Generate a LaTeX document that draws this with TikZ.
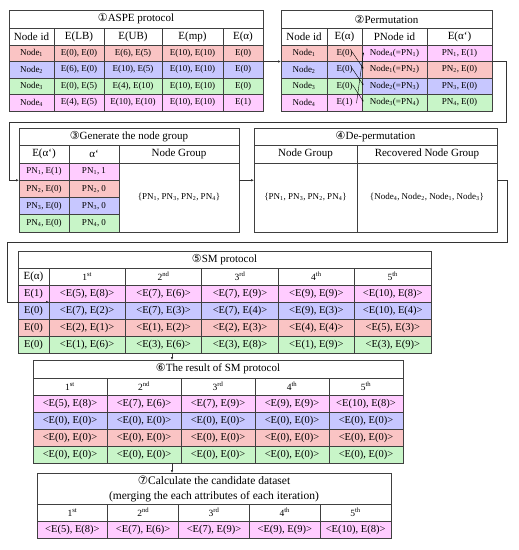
\documentclass[tikz,border=0pt]{standalone}
\usepackage{fontspec}
\setmainfont{Liberation Serif}
\newfontfamily\circfont{DejaVu Sans}
\usetikzlibrary{arrows.meta}

\definecolor{cpink}{RGB}{255,204,255}
\definecolor{cred}{RGB}{250,196,196}
\definecolor{cblue}{RGB}{199,199,255}
\definecolor{cgreen}{RGB}{200,245,200}

\newcommand{\stepno}[1]{{\circfont #1}}
\newcommand{\nodeid}[1]{Node\textsubscript{#1}}
\newcommand{\pnid}[1]{PN\textsubscript{#1}}
\newcommand{\hfont}{\fontsize{11}{13}\selectfont}
\newcommand{\cfont}{\fontsize{9}{11}\selectfont}
\newcommand{\bfont}{\fontsize{10.5}{12}\selectfont}
\newcommand{\sfont}{\fontsize{9.5}{11}\selectfont}

\begin{document}
\begin{tikzpicture}[x=1pt, y=-1pt,
  cell/.style={draw=black!75, line width=0.7pt, anchor=north west, inner sep=0pt, outer sep=0pt, minimum height=16.5pt, font=\cfont},
  hd/.style={cell, minimum height=17pt, font=\hfont},
  ttl/.style={cell, minimum height=18pt, font=\hfont},
  flow/.style={draw=black!80, line width=0.6pt, -{Latex[length=3pt,width=2.6pt]}},
  perm/.style={draw=black, line width=0.4pt, -{Latex[length=2pt,width=1.8pt]}}]
\useasboundingbox (0,0) rectangle (519,550);

% (1) ASPE protocol
\node[ttl, minimum width=254] (aT) at (9,10) {\stepno{①}ASPE protocol};
\node[hd, minimum width=45] (aH1) at (9,28) {Node id};
\node[hd, minimum width=50] (aH2) at (54,28) {E(LB)};
\node[hd, minimum width=58] (aH3) at (104,28) {E(UB)};
\node[hd, minimum width=61] (aH4) at (162,28) {E(mp)};
\node[hd, minimum width=40] (aH5) at (223,28) {E(α)};
\foreach \y/\c/\n/\lb/\ub/\al [count=\r] in {45/cred/1/{E(0), E(0)}/{E(6), E(5)}/E(0),
    61.5/cblue/2/{E(6), E(0)}/{E(10), E(5)}/E(0),
    78/cgreen/3/{E(0), E(5)}/{E(4), E(10)}/E(0),
    94.5/cpink/4/{E(4), E(5)}/{E(10), E(10)}/E(1)}{
  \node[cell, fill=\c, minimum width=45] (a\r1) at (9,\y) {\nodeid{\n}};
  \node[cell, fill=\c, minimum width=50] (a\r2) at (54,\y) {\lb};
  \node[cell, fill=\c, minimum width=58] (a\r3) at (104,\y) {\ub};
  \node[cell, fill=\c, minimum width=61] (a\r4) at (162,\y) {E(10), E(10)};
  \node[cell, fill=\c, minimum width=40] (a\r5) at (223,\y) {\al};
}

% (2) Permutation
\node[ttl, minimum width=211] (bT) at (281,10) {\stepno{②}Permutation};
\node[hd, minimum width=46] (bH1) at (281,28) {Node id};
\node[hd, minimum width=35] (bH2) at (327,28) {E(α)};
\node[hd, minimum width=65] (bH3) at (362,28) {PNode id};
\node[hd, minimum width=65] (bH4) at (427,28) {E(α`)};
\foreach \y/\c/\d/\al/\p/\q [count=\r] in {45/cred/cpink/0/4/1, 61.5/cblue/cred/0/1/0,
    78/cgreen/cblue/0/2/0, 94.5/cpink/cgreen/1/3/0}{
  \node[cell, fill=\c, minimum width=46] (b\r1) at (281,\y) {\nodeid{\r}};
  \node[cell, fill=\c, minimum width=35] (b\r2) at (327,\y) {E(\al)};
  \node[cell, fill=\d, minimum width=65] (b\r3) at (362,\y) {\nodeid{\p}(=\pnid{\r})};
  \node[cell, fill=\d, minimum width=65] (b\r4) at (427,\y) {\pnid{\r}, E(\q)};
}
\draw[perm] ([xshift=7.5pt,yshift=1.5pt]b12.center) -- ([xshift=1.5pt,yshift=1pt]b23.west);
\draw[perm] ([xshift=7.5pt,yshift=1.5pt]b22.center) -- ([xshift=1.5pt,yshift=1pt]b33.west);
\draw[perm] ([xshift=8pt,yshift=1.5pt]b32.center) -- ([xshift=1.5pt,yshift=1pt]b43.west);
\draw[perm] ([xshift=12pt,yshift=-0.5pt]b42.center) -- ([xshift=1.5pt,yshift=1pt]b13.west);

% (3) Generate the node group
\node[ttl, minimum width=220, minimum height=17pt] (cT) at (19,128) {\stepno{③}Generate the node group};
\node[hd, minimum width=50, minimum height=18pt] (cH1) at (19,145) {E(α`)};
\node[hd, minimum width=50, minimum height=18pt] (cH2) at (69,145) {α`};
\node[hd, minimum width=120, minimum height=18pt] (cH3) at (119,145) {Node Group};
\foreach \y/\c/\q [count=\r] in {163/cpink/1, 180.25/cred/0, 197.5/cblue/0, 214.75/cgreen/0}{
  \node[cell, fill=\c, minimum width=50, minimum height=17.25pt] (c\r1) at (19,\y) {\pnid{\r}, E(\q)};
  \node[cell, fill=\c, minimum width=50, minimum height=17.25pt] (c\r2) at (69,\y) {\pnid{\r}, \q};
}
\node[cell, minimum width=120, minimum height=69pt] (cG) at (119,163) {\{\pnid{1}, \pnid{3}, \pnid{2}, \pnid{4}\}};

% (4) De-permutation
\node[ttl, minimum width=243, minimum height=17pt] (dT) at (254,128) {\stepno{④}De-permutation};
\node[hd, minimum width=103, minimum height=18pt] (dH1) at (254,145) {Node Group};
\node[hd, minimum width=140, minimum height=18pt] (dH2) at (357,145) {Recovered Node Group};
\node[cell, minimum width=103, minimum height=69pt] (dG1) at (254,163) {\{\pnid{1}, \pnid{3}, \pnid{2}, \pnid{4}\}};
\node[cell, minimum width=140, minimum height=69pt] (dG2) at (357,163) {\{\nodeid{4}, \nodeid{2}, \nodeid{1}, \nodeid{3}\}};

% (5) SM protocol
\node[ttl, minimum width=413, minimum height=17pt] (eT) at (18,251) {\stepno{⑤}SM protocol};
\node[hd, minimum width=31] (eH0) at (18,268) {E(α)};
\foreach \i/\s in {1/st,2/nd,3/rd,4/th,5/th}
  \node[hd, font=\sfont, minimum width=76.4] (eH\i) at ({49+76.4*(\i-1)},268) {\i\textsuperscript{\s}};
\foreach \y/\c/\al/\ka/\kb/\kc/\kd/\ke [count=\r] in {
    285/cpink/E(1)/{<E(5), E(8)>}/{<E(7), E(6)>}/{<E(7), E(9)>}/{<E(9), E(9)>}/{<E(10), E(8)>},
    302/cblue/E(0)/{<E(7), E(2)>}/{<E(7), E(3)>}/{<E(7), E(4)>}/{<E(9), E(3)>}/{<E(10), E(4)>},
    319/cred/E(0)/{<E(2), E(1)>}/{<E(1), E(2)>}/{<E(2), E(3)>}/{<E(4), E(4)>}/{<E(5), E(3)>},
    336/cgreen/E(0)/{<E(1), E(6)>}/{<E(3), E(6)>}/{<E(3), E(8)>}/{<E(1), E(9)>}/{<E(3), E(9)>}}{
  \node[cell, fill=\c, font=\bfont, minimum width=31, minimum height=17pt] (e\r0) at (18,\y) {\al};
  \node[cell, fill=\c, font=\bfont, minimum width=76.4, minimum height=17pt] (e\r1) at (49,\y) {\ka};
  \node[cell, fill=\c, font=\bfont, minimum width=76.4, minimum height=17pt] (e\r2) at (125.4,\y) {\kb};
  \node[cell, fill=\c, font=\bfont, minimum width=76.4, minimum height=17pt] (e\r3) at (201.8,\y) {\kc};
  \node[cell, fill=\c, font=\bfont, minimum width=76.4, minimum height=17pt] (e\r4) at (278.2,\y) {\kd};
  \node[cell, fill=\c, font=\bfont, minimum width=76.4, minimum height=17pt] (e\r5) at (354.6,\y) {\ke};
}

% (6) The result of SM protocol
\node[ttl, minimum width=370] (fT) at (33,360) {\stepno{⑥}The result of SM protocol};
\foreach \i/\s in {1/st,2/nd,3/rd,4/th,5/th}
  \node[hd, font=\sfont, minimum width=74] (fH\i) at ({33+74*(\i-1)},378) {\i\textsuperscript{\s}};
\foreach \i/\v in {1/{<E(5), E(8)>}, 2/{<E(7), E(6)>}, 3/{<E(7), E(9)>}, 4/{<E(9), E(9)>}, 5/{<E(10), E(8)>}}
  \node[cell, fill=cpink, font=\bfont, minimum width=74, minimum height=17pt] (f1\i) at ({33+74*(\i-1)},395) {\v};
\foreach \y/\c [count=\r from 2] in {412/cblue, 429/cred, 446/cgreen}{
  \foreach \i in {1,...,5}
    \node[cell, fill=\c, font=\bfont, minimum width=74, minimum height=17pt] (f\r\i) at ({33+74*(\i-1)},\y) {<E(0), E(0)>};
}

% (7) Calculate the candidate dataset
\node[ttl, align=center, font=\fontsize{11.5}{15}\selectfont, minimum width=354, minimum height=31pt] (gT) at (37,473)
  {\stepno{⑦}Calculate the candidate dataset\\(merging the each attributes of each iteration)};
\foreach \i/\s in {1/st,2/nd,3/rd,4/th,5/th}
  \node[hd, font=\sfont, minimum width=70.8] (gH\i) at ({37+70.8*(\i-1)},504) {\i\textsuperscript{\s}};
\foreach \i/\v in {1/{<E(5), E(8)>}, 2/{<E(7), E(6)>}, 3/{<E(7), E(9)>}, 4/{<E(9), E(9)>}, 5/{<E(10), E(8)>}}
  \node[cell, fill=cpink, font=\bfont, minimum width=70.8, minimum height=17pt] (g1\i) at ({37+70.8*(\i-1)},521) {\v};

% connectors
\draw[flow] (a15.south east) -- (b11.south west);
\draw[flow] (b14.south east) -- ++(14,0) |- (9,122) |- (c11.south west);
\draw[flow] (cG.east |- c11.south) -- (dG1.west |- c11.south);
\draw[flow] (dG2.east |- c11.south) -- ++(10,0) |- (7,242) |- (e11.south west);
\draw[flow] ([xshift=8.4pt]e42.south) -- ([xshift=8.4pt]e42.south |- fT.north);
\draw[flow] ([xshift=28pt]f42.south) -- ([xshift=28pt]f42.south |- gT.north);
\end{tikzpicture}
\end{document}
